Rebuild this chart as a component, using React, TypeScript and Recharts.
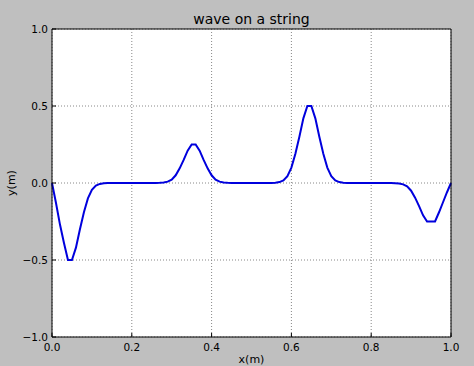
import { LineChart, Line, XAxis, YAxis, CartesianGrid, Label } from "recharts"

// sample positions along the string (m)
const xs = [
  0.0, 0.01, 0.02, 0.03, 0.04, 0.05, 0.06, 0.07, 0.08, 0.09,
  0.1, 0.11, 0.12, 0.13, 0.14, 0.15, 0.16, 0.17, 0.18, 0.19,
  0.2, 0.21, 0.22, 0.23, 0.24, 0.25, 0.26, 0.27, 0.28, 0.29,
  0.3, 0.31, 0.32, 0.33, 0.34, 0.35, 0.36, 0.37, 0.38, 0.39,
  0.4, 0.41, 0.42, 0.43, 0.44, 0.45, 0.46, 0.47, 0.48, 0.49,
  0.5, 0.51, 0.52, 0.53, 0.54, 0.55, 0.56, 0.57, 0.58, 0.59,
  0.6, 0.61, 0.62, 0.63, 0.64, 0.65, 0.66, 0.67, 0.68, 0.69,
  0.7, 0.71, 0.72, 0.73, 0.74, 0.75, 0.76, 0.77, 0.78, 0.79,
  0.8, 0.81, 0.82, 0.83, 0.84, 0.85, 0.86, 0.87, 0.88, 0.89,
  0.9, 0.91, 0.92, 0.93, 0.94, 0.95, 0.96, 0.97, 0.98, 0.99,
  1.0,
]

// displacement (m)
const ys = [
  0, -0.13, -0.27, -0.39, -0.5, -0.5, -0.42, -0.3, -0.19, -0.1,
  -0.045, -0.017, -0.006, -0.002, 0, 0, 0, 0, 0, 0,
  0, 0, 0, 0, 0, 0, 0, 0.001, 0.003, 0.009,
  0.022, 0.05, 0.095, 0.15, 0.21, 0.25, 0.25, 0.21, 0.15, 0.095,
  0.05, 0.022, 0.009, 0.003, 0.001, 0, 0, 0, 0, 0,
  0, 0, 0, 0, 0, 0, 0.002, 0.006, 0.017, 0.045,
  0.1, 0.19, 0.3, 0.42, 0.5, 0.5, 0.42, 0.3, 0.19, 0.1,
  0.045, 0.017, 0.006, 0.002, 0, 0, 0, 0, 0, 0,
  0, 0, 0, 0, 0, 0, -0.001, -0.003, -0.009, -0.022,
  -0.05, -0.095, -0.15, -0.21, -0.25, -0.25, -0.25, -0.19, -0.125, -0.06,
  0,
]

const xTicks = [0, 0.2, 0.4, 0.6, 0.8, 1.0]
const yTicks = [-1, -0.5, 0, 0.5, 1]

const data = xs.map((x, i) => ({ x, y: ys[i] }))

const tickFont = { fontSize: 10.5, fill: "#000", fontFamily: "DejaVu Sans" }
const fmt = (v: number) => v.toFixed(1).replace("-", "\u2212")

export default function App() {
  return (
    <div style={{ position: "absolute", left: 0, top: 0, width: 474, height: 366, background: "#bfbfbf" }}>
      <LineChart width={474} height={366} data={data} margin={{ top: 28, right: 22, bottom: 0, left: 0 }}>
        <CartesianGrid stroke="#888" strokeDasharray="1 2" fill="#fff" fillOpacity={1} />
        <XAxis
          dataKey="x"
          type="number"
          domain={[0, 1]}
          ticks={xTicks}
          tickFormatter={fmt}
          height={29}
          tickSize={-4}
          tickMargin={11}
          tick={tickFont}
          stroke="#000"
        >
          <Label value="x(m)" position="insideBottom" offset={3} style={{ fontSize: 11, fill: "#000", fontFamily: "DejaVu Sans" }} />
        </XAxis>
        <XAxis xAxisId="top" orientation="top" type="number" domain={[0, 1]} ticks={xTicks} height={1} tickSize={-4} tick={false} stroke="#000" />
        <YAxis
          type="number"
          domain={[-1, 1]}
          ticks={yTicks}
          tickFormatter={fmt}
          width={52}
          tickSize={-4}
          tickMargin={8}
          tick={tickFont}
          stroke="#000"
        >
          <Label value="y(m)" angle={-90} position="insideLeft" offset={11} style={{ fontSize: 11, fill: "#000", fontFamily: "DejaVu Sans", textAnchor: "middle" }} />
        </YAxis>
        <YAxis yAxisId="right" orientation="right" type="number" domain={[-1, 1]} ticks={yTicks} width={1} tickSize={-4} tick={false} stroke="#000" />
        <Line type="linear" dataKey="y" stroke="#0000dd" strokeWidth={2} dot={false} isAnimationActive={false} />
        <text x={251.5} y={19} textAnchor="middle" dominantBaseline="central" style={{ fontSize: 14, fontFamily: "DejaVu Sans" }}>
          wave on a string
        </text>
      </LineChart>
    </div>
  )
}
